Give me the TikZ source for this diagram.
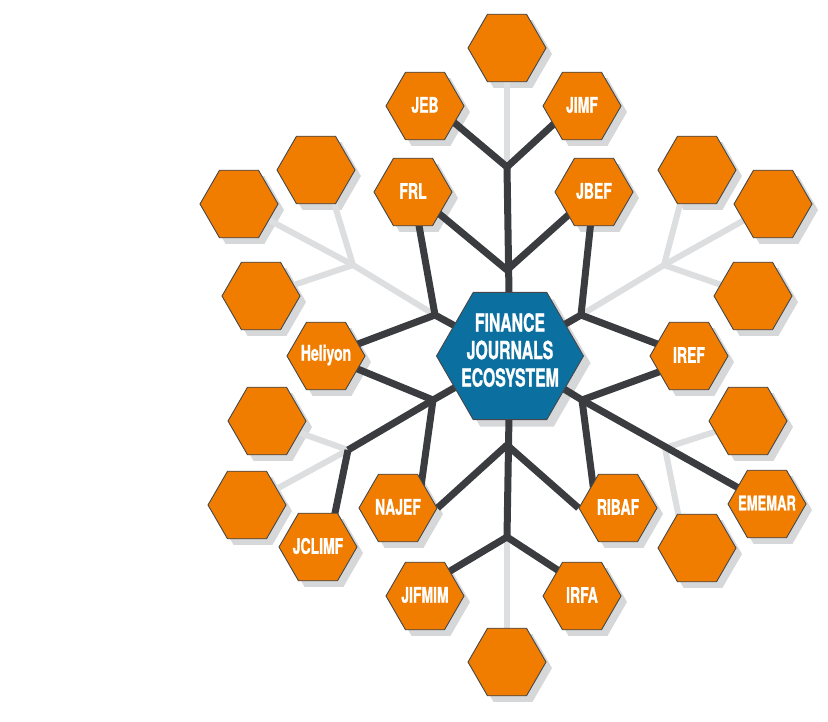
\documentclass[tikz,border=0pt]{standalone}
\usepackage{fontspec}
\usetikzlibrary{shapes.geometric,calc}
\newfontfamily\hexfont[FakeStretch=0.65,FakeBold=1]{TeX Gyre Heros}
\newfontfamily\hubfont[FakeStretch=0.63,FakeBold=1]{TeX Gyre Heros}
\definecolor{hexorange}{HTML}{F07D00}
\definecolor{hexblue}{HTML}{0B6F9F}
\definecolor{hexedge}{HTML}{45474A}
\definecolor{shadowgray}{HTML}{D6D7D8}
\definecolor{linkdark}{HTML}{3A3C40}
\definecolor{linklight}{HTML}{DDDEDF}
\pgfdeclarelayer{shadowlayer}
\pgfdeclarelayer{linklayer}
\pgfsetlayers{shadowlayer,linklayer,main}
\tikzset{
  hexbase/.style={regular polygon,regular polygon sides=6,inner sep=0pt,minimum size=78pt},
  hexnode/.style={hexbase,draw=hexedge,line width=0.9pt,fill=hexorange},
  hextext/.style={text=white,inner sep=0pt,align=center,font=\hexfont\bfseries\fontsize{21.5}{23}\selectfont},
  smalltext/.style={hextext,font=\hexfont\bfseries\fontsize{20}{22}\selectfont},
  hubtext/.style={hextext,font=\hubfont\bfseries\fontsize{25}{27.5}\selectfont},
  hexshadow/.style={hexbase,fill=shadowgray},
  hubnode/.style={hexnode,fill=hexblue,minimum size=147pt},
  hubshadow/.style={hexshadow,minimum size=147pt},
  darklink/.style={draw=linkdark,line width=7pt},
  lightlink/.style={draw=linklight,line width=6pt}
}
\newcommand{\hexat}[4]{%
  \begin{pgfonlayer}{shadowlayer}
    \node[hexshadow] (#1s) at (#2+6,#3+6) {};
  \end{pgfonlayer}
  \node[hexnode] (#1) at (#2,#3) {};
  \if\relax\detokenize{#4}\relax\else
    \node[hextext] (#1t) at (#2,#3-1) {#4};
  \fi
}
\begin{document}
\begin{tikzpicture}[x=1pt,y=-1pt]
\useasboundingbox (0,0) rectangle (828,721);
% hub
\begin{pgfonlayer}{shadowlayer}
  \node[hubshadow] (hubs) at (517,363) {};
\end{pgfonlayer}
\node[hubnode] (hub) at (510,356) {};
\node[hubtext] (hubt) at (510,350) {FINANCE\\JOURNALS\\ECOSYSTEM};
% named journals
\hexat{jeb}{425}{106}{JEB}
\hexat{jimf}{582}{106}{JIMF}
\hexat{frl}{413}{192}{FRL}
\hexat{jbef}{594}{192}{JBEF}
\hexat{heliyon}{326}{356}{Heliyon}
\hexat{iref}{689}{356}{IREF}
\hexat{jclimf}{318}{547}{JCLIMF}
\hexat{najef}{398}{508}{NAJEF}
\hexat{ribaf}{618}{508}{RIBAF}
\hexat{ememar}{767}{504}{}
\node[smalltext] (ememart) at (767,503) {EMEMAR};
\hexat{jifmim}{425}{596}{JIFMIM}
\hexat{irfa}{582}{596}{IRFA}
% blank cells
\hexat{etop}{507}{48}{}
\hexat{ebottom}{507}{662}{}
\hexat{eula}{239}{204}{}
\hexat{eulb}{316}{170}{}
\hexat{eulc}{261}{296}{}
\hexat{eura}{697}{170}{}
\hexat{eurb}{773}{204}{}
\hexat{eurc}{753}{296}{}
\hexat{ella}{267}{421}{}
\hexat{ellb}{247}{505}{}
\hexat{elra}{748}{421}{}
\hexat{elrb}{697}{548}{}
% junctions
\coordinate (jtopa) at (507,270);
\coordinate (jtopb) at (507,167);
\coordinate (jul) at (435,315);
\coordinate (jull) at (353,265);
\coordinate (jur) at (581,315);
\coordinate (jurl) at (664,265);
\coordinate (jll) at (433,400);
\coordinate (jlll) at (348,450);
\coordinate (jlr) at (582,400);
\coordinate (jlrl) at (665,448);
\coordinate (jbota) at (507,445);
\coordinate (jbotb) at (507,537);
\begin{pgfonlayer}{linklayer}
  % light branches
  \draw[lightlink] (jtopb) -- (etop.center);
  \draw[lightlink] (jbotb) -- (ebottom.center);
  \draw[lightlink] (jul) -- (jull);
  \draw[lightlink] (jull) -- (eula.center);
  \draw[lightlink] (jull) -- ([xshift=8pt,yshift=0pt]eulb.center);
  \draw[lightlink] (jull) -- (eulc.center);
  \draw[lightlink] (jur) -- (jurl);
  \draw[lightlink] (jurl) -- (eurb.center);
  \draw[lightlink] (jurl) -- ([xshift=-8pt]eura.center);
  \draw[lightlink] (jurl) -- (eurc.center);
  \draw[lightlink] (jlll) -- (ella.center);
  \draw[lightlink] (jlll) -- (ellb.center);
  \draw[lightlink] (jlrl) -- (elra.center);
  \draw[lightlink] (jlrl) -- ([xshift=-12pt]elrb.center);
  % dark branches
  \draw[darklink] (hub.center) -- (jtopb);
  \draw[darklink] (jtopa) -- (frl.center);
  \draw[darklink] (jtopa) -- (jbef.center);
  \draw[darklink] (jtopb) -- ([yshift=8pt]jeb.center);
  \draw[darklink] (jtopb) -- ([yshift=8pt]jimf.center);
  \draw[darklink] (hub.center) -- (jul);
  \draw[darklink] (jul) -- (frl.center);
  \draw[darklink] (jul) -- (heliyon.center);
  \draw[darklink] (hub.center) -- (jur);
  \draw[darklink] (jur) -- (jbef.center);
  \draw[darklink] (jur) -- (iref.center);
  \draw[darklink] (hub.center) -- (jll);
  \draw[darklink] (jll) -- (heliyon.center);
  \draw[darklink] (jll) -- ([xshift=20pt]najef.center);
  \draw[darklink] (jll) -- (jlll);
  \draw[darklink] (jlll) -- ([xshift=10pt]jclimf.center);
  \draw[darklink] (hub.center) -- (jlr);
  \draw[darklink] (jlr) -- ([yshift=-5pt]iref.center);
  \draw[darklink] (jlr) -- ([xshift=-22pt]ribaf.center);
  \draw[darklink] (jlr) -- (ememar.center);
  \draw[darklink] (hub.center) -- (jbotb);
  \draw[darklink] (jbota) -- (najef.east);
  \draw[darklink] (jbota) -- (ribaf.west);
  \draw[darklink] (jbotb) -- ([yshift=10pt]jifmim.center);
  \draw[darklink] (jbotb) -- ([yshift=10pt]irfa.center);
\end{pgfonlayer}
\end{tikzpicture}
\end{document}
